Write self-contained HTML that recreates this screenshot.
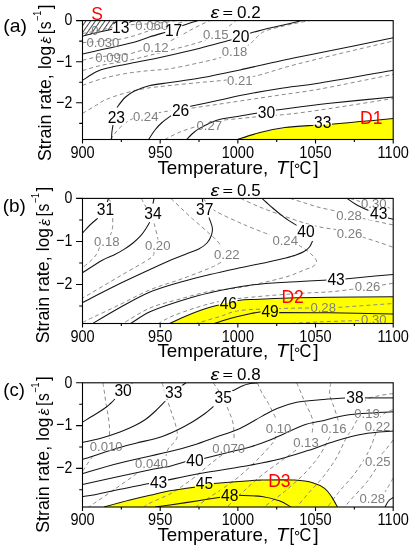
<!DOCTYPE html><html><head><meta charset="utf-8"><title>Processing maps</title><style>
html,body{margin:0;padding:0;background:#fff;}svg{display:block;}
text{font-family:"Liberation Sans",Arial,sans-serif;}
.s{fill:none;stroke:#141414;stroke-width:1.05;}
.d{fill:none;stroke:#8a8a8a;stroke-width:1;stroke-dasharray:4 3;}
.bl{font-size:15px;fill:#000;}
.gr{font-size:13px;fill:#7f7f7f;}
.rd{font-size:15px;fill:#ff0000;}
.tk{font-size:16.8px;fill:#000;}
.ax{fill:none;stroke:#000;stroke-width:1.1;}
</style></head><body>
<svg width="413" height="550" viewBox="0 0 413 550">
<defs>
<pattern id="hatch" patternUnits="userSpaceOnUse" width="3.9" height="3.9" patternTransform="rotate(35)"><line x1="0.5" y1="0" x2="0.5" y2="3.9" stroke="#2a2a2a" stroke-width="0.85"/></pattern>
<clipPath id="clipa"><rect x="82.5" y="20.6" width="310.7" height="118.9"/></clipPath>
<clipPath id="clipb"><rect x="82.5" y="198.4" width="310.7" height="125.1"/></clipPath>
<clipPath id="clipc"><rect x="82.5" y="382.8" width="310.7" height="124.2"/></clipPath>
</defs>
<rect width="413" height="550" fill="#fff"/>
<g clip-path="url(#clipa)">
<path d="M237.5 139.6 C245 136 252 134 260 132.5 C275 129 290 127 314.6 125.2 L331 124.2 C355 122 375 120.2 393.3 118.6 L393.3 139.6 Z" fill="#ffff00" stroke="none"/>
<path d="M82.5 20.6 L114.6 20.6 L112.2 29.2 L97 32.4 L82.5 36.2 Z" fill="url(#hatch)"/>
<mask id="mda" maskUnits="userSpaceOnUse" x="0" y="0" width="413" height="550"><rect x="0" y="0" width="413" height="550" fill="#fff"/><rect x="142.0" y="41.2" width="27.3" height="11.9" fill="#000"/><rect x="202.1" y="27.8" width="27.4" height="12.0" fill="#000"/><rect x="220.8" y="45.3" width="27.3" height="12.5" fill="#000"/><rect x="226.8" y="74.3" width="25.9" height="11.5" fill="#000"/><rect x="132.8" y="110.6" width="25.9" height="11.6" fill="#000"/><rect x="196.3" y="119.4" width="25.7" height="12.0" fill="#000"/><rect x="112.5" y="21.5" width="16.8" height="13.0" fill="#000"/><rect x="165.4" y="24.0" width="16.8" height="13.2" fill="#000"/><rect x="231.5" y="29.8" width="18.7" height="13.1" fill="#000"/><rect x="106.8" y="110.8" width="19.1" height="13.4" fill="#000"/><rect x="171.0" y="103.5" width="19.2" height="14.0" fill="#000"/><rect x="257.0" y="106.1" width="18.9" height="13.5" fill="#000"/><rect x="313.4" y="116.2" width="18.6" height="13.4" fill="#000"/></mask>
<mask id="msa" maskUnits="userSpaceOnUse" x="0" y="0" width="413" height="550"><rect x="0" y="0" width="413" height="550" fill="#fff"/><rect x="112.5" y="21.5" width="16.8" height="13.0" fill="#000"/><rect x="165.4" y="24.0" width="16.8" height="13.2" fill="#000"/><rect x="231.5" y="29.8" width="18.7" height="13.1" fill="#000"/><rect x="106.8" y="110.8" width="19.1" height="13.4" fill="#000"/><rect x="171.0" y="103.5" width="19.2" height="14.0" fill="#000"/><rect x="257.0" y="106.1" width="18.9" height="13.5" fill="#000"/><rect x="313.4" y="116.2" width="18.6" height="13.4" fill="#000"/></mask>
<g mask="url(#mda)">
<path class="d" d="M82.5 33.6 C84.9 33.1 92.1 31.8 97.0 30.8 C101.9 29.8 107.3 28.5 112.0 27.6 C116.7 26.7 121.0 25.9 125.0 25.4 C129.0 24.9 131.8 24.7 136.0 24.4 C140.2 24.1 145.2 24.1 150.0 23.8 C154.8 23.5 160.7 22.9 165.0 22.4 C169.3 21.9 174.2 20.9 176.0 20.6"/>
<path class="d" d="M82.5 42.7 C85.4 42.4 93.9 41.7 100.0 41.1 C106.1 40.5 113.2 40.3 119.0 39.4 C124.8 38.5 129.8 37.0 135.0 35.5 C140.2 34.0 145.0 31.9 150.0 30.5 C155.0 29.1 160.3 28.2 165.0 27.0 C169.7 25.8 174.5 24.6 178.0 23.5 C181.5 22.4 184.7 21.1 186.0 20.6"/>
<path class="d" d="M82.5 60.3 C84.5 59.8 89.6 58.4 94.2 57.6 C98.8 56.8 104.4 56.3 110.0 55.7 C115.6 55.1 122.5 55.2 128.0 54.2 C133.5 53.2 138.5 51.2 143.2 49.8 C147.9 48.4 151.8 47.4 156.0 46.0 C160.2 44.6 164.2 43.5 168.5 41.7 C172.8 39.9 177.8 37.1 181.7 35.0 C185.6 32.9 188.6 31.1 192.0 29.3 C195.4 27.5 199.0 25.6 202.0 24.2 C205.0 22.8 208.7 21.2 210.0 20.6"/>
<path class="d" d="M82.5 70.6 C85.7 69.7 94.7 66.8 101.8 65.2 C108.9 63.7 117.8 62.8 125.0 61.3 C132.2 59.8 139.2 57.9 145.0 56.5 C150.8 55.1 153.3 54.4 160.0 52.7 C166.7 51.0 178.3 48.1 185.0 46.3 C191.7 44.5 195.5 43.5 200.0 42.0 C204.5 40.5 208.3 38.8 212.0 37.0 C215.7 35.2 219.0 32.9 222.0 31.0 C225.0 29.1 227.7 27.2 230.0 25.5 C232.3 23.8 235.0 21.4 236.0 20.6"/>
<path class="d" d="M82.5 85.3 C85.7 84.2 95.0 80.7 101.8 78.8 C108.6 76.9 116.4 75.2 123.6 73.9 C130.8 72.6 137.3 71.9 145.0 71.0 C152.7 70.1 160.8 70.1 170.0 68.7 C179.2 67.3 191.3 64.5 200.0 62.6 C208.7 60.6 214.2 59.8 222.0 57.0 C229.8 54.2 241.3 49.2 247.0 46.0 C252.7 42.8 252.9 40.5 256.0 38.0 C259.1 35.5 259.7 33.2 265.4 31.0 C271.1 28.8 282.6 26.2 290.0 24.5 C297.4 22.8 306.7 21.2 310.0 20.6"/>
<path class="d" d="M82.5 113.4 C84.6 112.2 91.2 108.2 95.0 106.0 C98.8 103.8 100.2 102.1 105.0 100.0 C109.8 97.9 116.9 95.4 123.6 93.5 C130.3 91.6 137.3 89.8 145.0 88.5 C152.7 87.2 160.8 86.5 170.0 85.5 C179.2 84.5 190.6 83.4 200.0 82.5 C209.4 81.6 217.6 81.0 226.5 80.0 C235.4 79.0 242.9 78.8 253.5 76.5 C264.1 74.2 277.2 69.4 290.0 66.0 C302.8 62.6 312.8 60.2 330.0 56.0 C347.2 51.8 382.7 43.5 393.2 41.0"/>
<path class="d" d="M110.5 139.5 C111.4 138.2 113.8 134.6 116.0 132.0 C118.2 129.4 121.0 126.3 124.0 124.0 C127.0 121.7 130.2 119.6 134.0 118.0 C137.8 116.4 142.7 115.4 147.0 114.5 C151.3 113.6 155.8 113.2 160.0 112.5 C164.2 111.8 167.2 111.2 172.0 110.5 C176.8 109.8 181.0 109.6 189.0 108.5 C197.0 107.4 209.8 105.5 220.0 104.0 C230.2 102.5 240.0 101.0 250.0 99.5 C260.0 98.0 268.3 96.8 280.0 95.0 C291.7 93.2 301.1 92.4 320.0 89.0 C338.9 85.6 381.0 76.8 393.2 74.4"/>
<path class="d" d="M164.8 139.5 C167.3 138.2 174.8 134.2 180.0 132.0 C185.2 129.8 191.6 128.0 196.3 126.5 C201.0 125.0 204.0 124.0 208.0 123.0 C212.0 122.0 215.2 121.2 220.5 120.4 C225.8 119.7 233.4 119.2 240.0 118.5 C246.6 117.8 251.7 117.2 260.0 116.5 C268.3 115.8 278.3 115.3 290.0 114.0 C301.7 112.7 312.8 111.1 330.0 108.5 C347.2 105.9 382.7 100.2 393.2 98.5"/>
</g><g mask="url(#msa)">
<path class="s" d="M82.5 36.2 C84.9 35.6 92.0 33.6 97.0 32.4 C102.0 31.2 109.7 29.7 112.2 29.2"/>
<path class="s" d="M128.0 22.8 C128.7 22.6 130.7 21.7 132.0 21.3 C133.3 20.9 135.3 20.7 136.0 20.6"/>
<path class="s" d="M82.5 54.1 C85.4 53.4 94.8 51.2 100.0 50.0 C105.2 48.8 108.2 48.3 114.0 47.0 C119.8 45.7 129.0 43.7 135.0 42.0 C141.0 40.3 144.9 38.4 150.0 36.8 C155.1 35.2 163.0 33.0 165.6 32.2"/>
<path class="s" d="M181.2 25.9 C182.7 25.4 187.2 23.9 190.0 23.0 C192.8 22.1 196.8 21.0 198.1 20.6"/>
<path class="s" d="M82.5 80.4 C84.8 79.0 91.7 73.9 96.3 71.7 C100.9 69.5 105.2 68.7 110.0 67.5 C114.8 66.3 119.2 65.6 125.0 64.4 C130.8 63.2 139.2 61.6 145.0 60.5 C150.8 59.4 154.2 58.8 160.0 57.5 C165.8 56.2 173.3 54.5 180.0 53.0 C186.7 51.5 191.3 50.5 200.0 48.3 C208.7 46.1 226.9 41.0 232.3 39.6"/>
<path class="s" d="M250.0 33.2 C253.3 32.3 263.3 29.6 270.0 28.0 C276.7 26.4 284.7 24.6 290.0 23.4 C295.3 22.2 300.0 21.1 302.0 20.6"/>
<path class="s" d="M111.6 139.5 C111.6 138.4 111.6 135.4 111.8 133.0 C112.0 130.6 112.8 126.3 113.0 125.0"/>
<path class="s" d="M117.0 107.5 C118.3 105.8 122.1 100.2 125.0 97.5 C127.9 94.8 130.3 93.0 134.5 91.0 C138.7 89.0 144.1 86.9 150.0 85.5 C155.9 84.1 161.7 83.8 170.0 82.6 C178.3 81.3 188.3 80.1 200.0 78.0 C211.7 75.9 226.7 72.7 240.0 69.9 C253.3 67.1 266.7 63.9 280.0 61.0 C293.3 58.1 301.1 56.7 320.0 52.8 C338.9 48.9 381.0 40.3 393.2 37.8"/>
<path class="s" d="M148.6 139.5 C149.7 137.9 152.8 132.8 155.0 130.0 C157.2 127.2 159.3 124.9 162.0 122.5 C164.7 120.1 169.5 116.8 171.0 115.6"/>
<path class="s" d="M189.3 106.5 C194.4 105.4 211.6 101.8 220.0 100.0 C228.4 98.2 230.0 97.4 240.0 95.5 C250.0 93.6 266.7 90.6 280.0 88.5 C293.3 86.4 301.1 86.0 320.0 83.0 C338.9 80.0 381.0 72.4 393.2 70.3"/>
<path class="s" d="M186.6 139.5 C187.5 138.6 190.0 135.8 192.0 134.0 C194.0 132.2 195.7 130.7 198.7 128.9 C201.7 127.1 206.4 124.6 210.0 123.0 C213.6 121.4 215.5 120.4 220.5 119.2 C225.5 118.0 233.8 117.0 240.0 116.0 C246.2 115.0 254.6 113.5 257.5 113.0"/>
<path class="s" d="M275.2 110.3 C277.7 110.0 280.9 109.4 290.0 108.2 C299.1 107.0 312.8 105.2 330.0 103.3 C347.2 101.4 382.7 98.0 393.2 96.9"/>
<path class="s" d="M237.5 139.5 C241.2 138.3 252.1 134.5 260.0 132.5 C267.9 130.5 275.9 128.8 285.0 127.6 C294.1 126.4 309.7 125.6 314.6 125.2"/>
<path class="s" d="M331.0 124.2 C335.8 123.8 349.6 122.5 360.0 121.6 C370.4 120.7 387.7 119.1 393.2 118.6"/>
</g>
<text font-family="Liberation Sans" font-size="13.70" fill="#7f7f7f" transform="translate(91.28 34.71) scale(0.960 1)">0</text>
<text font-family="Liberation Sans" font-size="13.70" fill="#7f7f7f" transform="translate(86.43 47.21) scale(0.960 1)">0.030</text>
<text font-family="Liberation Sans" font-size="13.70" fill="#7f7f7f" transform="translate(135.33 29.61) scale(0.960 1)">0.060</text>
<text font-family="Liberation Sans" font-size="13.70" fill="#7f7f7f" transform="translate(95.33 62.31) scale(0.960 1)">0.090</text>
<text font-family="Liberation Sans" font-size="13.70" fill="#7f7f7f" transform="translate(142.93 51.86) scale(0.960 1)">0.12</text>
<text font-family="Liberation Sans" font-size="13.70" fill="#7f7f7f" transform="translate(203.01 38.51) scale(0.960 1)">0.15</text>
<text font-family="Liberation Sans" font-size="13.70" fill="#7f7f7f" transform="translate(221.68 56.26) scale(0.960 1)">0.18</text>
<text font-family="Liberation Sans" font-size="13.70" fill="#7f7f7f" transform="translate(227.01 84.76) scale(0.960 1)">0.21</text>
<text font-family="Liberation Sans" font-size="13.70" fill="#7f7f7f" transform="translate(132.88 121.11) scale(0.960 1)">0.24</text>
<text font-family="Liberation Sans" font-size="13.70" fill="#7f7f7f" transform="translate(196.43 130.11) scale(0.960 1)">0.27</text>
<text font-family="Liberation Sans" font-size="15.60" fill="#000" transform="translate(111.99 33.36) scale(1.000 1)">13</text>
<text font-family="Liberation Sans" font-size="15.60" fill="#000" transform="translate(164.95 35.96) scale(1.000 1)">17</text>
<text font-family="Liberation Sans" font-size="15.60" fill="#000" transform="translate(232.09 41.71) scale(1.000 1)">20</text>
<text font-family="Liberation Sans" font-size="15.60" fill="#000" transform="translate(107.63 122.86) scale(1.000 1)">23</text>
<text font-family="Liberation Sans" font-size="15.60" fill="#000" transform="translate(171.88 115.86) scale(1.000 1)">26</text>
<text font-family="Liberation Sans" font-size="15.60" fill="#000" transform="translate(257.79 118.21) scale(1.000 1)">30</text>
<text font-family="Liberation Sans" font-size="15.60" fill="#000" transform="translate(314.08 128.26) scale(1.000 1)">33</text>
</g>
<text font-family="Liberation Sans" font-size="17.50" fill="#ff0000" transform="translate(91.31 19.92) scale(1.000 1)">S</text>
<text font-family="Liberation Sans" font-size="17.50" fill="#ff0000" transform="translate(360.07 123.92) scale(1.000 1)">D1</text>
<rect class="ax" x="82.5" y="20.6" width="310.7" height="118.9"/>
<path class="ax" d="M76.1 20.60 H82.5 M79.2 41.15 H82.5 M76.1 61.70 H82.5 M79.2 82.25 H82.5 M76.1 102.80 H82.5 M79.2 123.35 H82.5 M82.50 139.5 V143.5 M121.34 139.5 V141.9 M160.18 139.5 V143.5 M199.01 139.5 V141.9 M237.85 139.5 V143.5 M276.69 139.5 V141.9 M315.52 139.5 V143.5 M354.36 139.5 V141.9 M393.20 139.5 V143.5"/>
<text class="tk" transform="translate(72.3 25.4) scale(0.84 1)" text-anchor="end">0</text>
<text class="tk" transform="translate(72.3 66.5) scale(0.84 1)" text-anchor="end">−1</text>
<text class="tk" transform="translate(72.3 107.6) scale(0.84 1)" text-anchor="end">−2</text>
<text class="tk" transform="translate(82.50 158.1) scale(0.865 1)" text-anchor="middle">900</text>
<text class="tk" transform="translate(160.18 158.1) scale(0.865 1)" text-anchor="middle">950</text>
<text class="tk" transform="translate(237.85 158.1) scale(0.865 1)" text-anchor="middle">1000</text>
<text class="tk" transform="translate(315.52 158.1) scale(0.865 1)" text-anchor="middle">1050</text>
<text class="tk" transform="translate(393.20 158.1) scale(0.865 1)" text-anchor="middle">1100</text>
<text font-family="Liberation Sans" font-size="18.00" fill="#000" transform="translate(157.38 173.50) scale(1.046 1)">Temperature,</text>
<text font-family="Liberation Sans" font-style="italic" font-size="18.00" fill="#000" transform="translate(275.98 173.50) scale(1.121 1)">T</text>
<text font-family="Liberation Sans" font-size="18.00" fill="#000" transform="translate(289.45 173.50) scale(0.917 1)">[</text>
<text font-family="Liberation Sans" font-size="18.00" fill="#000" transform="translate(299.58 173.50) scale(0.910 1)">C</text>
<text font-family="Liberation Sans" font-size="18.00" fill="#000" transform="translate(313.25 173.50) scale(1.083 1)">]</text>
<circle cx="297.1" cy="165.9" r="1.8" fill="none" stroke="#000" stroke-width="0.95"/>
<text font-family="Liberation Sans" font-size="18.66" fill="#000" transform="translate(3.19 32.23) scale(1.038 1)">(a)</text>
<text font-family="DejaVu Serif" font-style="italic" font-size="16.15" fill="#000" transform="translate(210.55 18.28) scale(1.239 1)">ε</text>
<text font-family="Liberation Sans" font-size="13.64" fill="#000" transform="translate(222.44 16.99) scale(1.323 1)">=</text>
<text font-family="Liberation Sans" font-size="15.83" fill="#000" transform="translate(237.12 17.94) scale(1.079 1)">0.2</text>
<text font-family="Liberation Sans" font-size="18.00" fill="#000" transform="translate(51.10 161.10) rotate(-90) scale(0.988 1)">Strain rate,</text>
<text font-family="Liberation Sans" font-size="18.00" fill="#000" transform="translate(51.10 68.96) rotate(-90) scale(0.956 1)">log</text>
<text font-family="Liberation Serif" font-style="italic" font-size="15.00" fill="#000" transform="translate(51.40 43.82) rotate(-90) scale(1.056 1)">ε</text>
<circle cx="41.6" cy="40.3" r="0.85" fill="#000"/>
<text font-family="Liberation Sans" font-size="18.00" fill="#000" transform="translate(51.10 34.05) rotate(-90) scale(0.833 1)">[</text>
<text font-family="Liberation Sans" font-size="18.00" fill="#000" transform="translate(51.10 29.23) rotate(-90) scale(0.863 1)">s</text>
<text font-family="Liberation Sans" font-size="10.60" fill="#000" transform="translate(40.80 20.95) rotate(-90) scale(0.842 1)">−1</text>
<text font-family="Liberation Sans" font-size="18.00" fill="#000" transform="translate(51.10 9.22) rotate(-90) scale(0.917 1)">]</text>
<g clip-path="url(#clipb)">
<path d="M169.6 323.6 C180 318 195 312 210 307.3 C220 304.5 232 301 250 299.6 C290 298 330 297.3 393.3 296.7 L393.3 323.6 Z" fill="#ffff00" stroke="none"/>
<mask id="mdb" maskUnits="userSpaceOnUse" x="0" y="0" width="413" height="550"><rect x="0" y="0" width="413" height="550" fill="#fff"/><rect x="93.0" y="235.3" width="27.4" height="11.4" fill="#000"/><rect x="144.2" y="239.6" width="27.0" height="12.2" fill="#000"/><rect x="212.8" y="247.0" width="27.7" height="14.2" fill="#000"/><rect x="271.4" y="233.8" width="27.7" height="13.0" fill="#000"/><rect x="336.2" y="227.7" width="26.6" height="12.1" fill="#000"/><rect x="335.3" y="209.3" width="27.5" height="12.1" fill="#000"/><rect x="360.4" y="198.1" width="26.7" height="10.9" fill="#000"/><rect x="353.7" y="280.0" width="27.5" height="13.1" fill="#000"/><rect x="309.6" y="301.5" width="27.1" height="12.3" fill="#000"/><rect x="360.4" y="313.8" width="26.7" height="11.2" fill="#000"/><rect x="96.5" y="202.5" width="17.9" height="14.1" fill="#000"/><rect x="144.0" y="207.4" width="17.9" height="13.0" fill="#000"/><rect x="195.8" y="202.4" width="17.7" height="14.4" fill="#000"/><rect x="296.5" y="224.4" width="18.7" height="14.4" fill="#000"/><rect x="369.2" y="207.4" width="18.8" height="13.0" fill="#000"/><rect x="326.5" y="272.3" width="18.9" height="14.0" fill="#000"/><rect x="218.8" y="297.2" width="18.7" height="13.3" fill="#000"/><rect x="260.6" y="304.8" width="18.6" height="14.4" fill="#000"/></mask>
<mask id="msb" maskUnits="userSpaceOnUse" x="0" y="0" width="413" height="550"><rect x="0" y="0" width="413" height="550" fill="#fff"/><rect x="96.5" y="202.5" width="17.9" height="14.1" fill="#000"/><rect x="144.0" y="207.4" width="17.9" height="13.0" fill="#000"/><rect x="195.8" y="202.4" width="17.7" height="14.4" fill="#000"/><rect x="296.5" y="224.4" width="18.7" height="14.4" fill="#000"/><rect x="369.2" y="207.4" width="18.8" height="13.0" fill="#000"/><rect x="326.5" y="272.3" width="18.9" height="14.0" fill="#000"/><rect x="218.8" y="297.2" width="18.7" height="13.3" fill="#000"/><rect x="260.6" y="304.8" width="18.6" height="14.4" fill="#000"/></mask>
<g mask="url(#mdb)">
<path class="d" d="M108.3 198.4 C109.0 199.5 111.6 202.2 112.3 205.0 C113.0 207.8 112.7 211.2 112.7 215.0 C112.7 218.8 112.9 224.4 112.5 227.7 C112.1 231.0 110.8 233.8 110.5 235.0"/>
<path class="d" d="M99.6 247.4 C99.0 248.7 97.6 252.7 96.0 255.0 C94.4 257.4 92.2 259.4 90.0 261.5 C87.8 263.6 83.8 266.7 82.5 267.7"/>
<path class="d" d="M141.3 198.4 C142.1 199.9 144.8 204.8 146.2 207.6 C147.6 210.4 148.7 212.4 150.0 215.0 C151.3 217.6 152.8 219.8 154.0 223.4 C155.2 227.0 156.7 233.7 157.4 236.5 C158.1 239.3 157.9 239.8 158.0 240.5"/>
<path class="d" d="M154.0 252.0 C153.3 253.1 155.7 254.4 150.0 258.4 C144.3 262.4 131.2 269.4 120.0 276.0 C108.8 282.6 88.8 294.5 82.5 298.2"/>
<path class="d" d="M170.9 198.4 C172.8 200.2 178.4 205.6 182.0 209.0 C185.6 212.4 189.4 216.0 192.7 219.0 C196.0 222.0 199.1 224.4 202.0 227.0 C204.9 229.6 207.6 232.1 210.0 234.3 C212.4 236.5 214.8 238.2 216.6 240.2 C218.4 242.1 220.3 245.0 221.0 246.0"/>
<path class="d" d="M221.0 262.4 C219.2 263.3 216.8 265.1 210.0 268.0 C203.2 270.9 190.0 275.9 180.0 279.5 C170.0 283.1 160.0 285.6 150.0 289.8 C140.0 294.0 130.5 299.4 120.0 304.5 C109.5 309.6 93.0 317.3 86.8 320.3 C80.6 323.3 83.6 322.1 83.0 322.5"/>
<path class="d" d="M203.3 198.4 C203.9 199.2 205.0 200.9 207.0 203.0 C209.0 205.1 209.2 207.4 215.3 211.0 C221.4 214.6 234.2 220.3 243.3 224.3 C252.4 228.3 265.6 233.2 270.0 235.0"/>
<path class="d" d="M298.8 245.2 C300.7 246.5 307.1 250.4 310.0 253.0 C312.9 255.6 316.0 258.8 316.5 261.0 C317.0 263.2 314.9 265.1 313.0 266.5 C311.1 267.9 310.3 267.6 305.4 269.5 C300.5 271.4 294.5 274.6 283.6 277.6 C272.7 280.6 252.3 285.2 240.0 287.5 C227.7 289.8 220.0 289.4 210.0 291.3 C200.0 293.2 190.0 296.2 180.0 299.0 C170.0 301.8 159.3 304.0 150.0 308.0 C140.7 312.0 128.8 320.1 124.0 322.8 C119.2 325.5 121.5 323.8 121.0 324.0"/>
<path class="d" d="M240.6 198.4 C243.0 199.5 250.1 202.9 255.0 205.0 C259.9 207.1 262.5 208.2 270.0 211.0 C277.5 213.8 291.7 218.9 300.0 221.6 C308.3 224.3 314.0 225.7 320.0 227.0 C326.0 228.3 333.3 229.1 336.0 229.5"/>
<path class="d" d="M362.0 237.0 C364.7 237.8 372.8 240.3 378.0 242.0 C383.2 243.7 390.7 246.4 393.2 247.3"/>
<path class="d" d="M158.0 323.8 C160.8 322.3 166.3 318.4 175.0 315.0 C183.7 311.6 199.2 306.4 210.0 303.6 C220.8 300.8 226.7 300.0 240.0 298.4 C253.3 296.8 275.0 295.1 290.0 294.0 C305.0 292.9 319.4 292.6 330.0 291.8 C340.6 291.0 349.9 289.5 353.9 289.0"/>
<path class="d" d="M382.0 285.1 L393.2 283.2"/>
<path class="d" d="M290.0 198.4 C292.5 199.2 300.0 201.5 305.0 203.0 C310.0 204.5 314.8 206.3 320.0 207.6 C325.2 208.9 333.3 210.4 336.0 211.0"/>
<path class="d" d="M361.6 218.2 L393.2 225.0"/>
<path class="d" d="M195.0 323.8 C199.2 322.6 212.5 318.7 220.0 316.5 C227.5 314.3 230.0 311.8 240.0 310.5 C250.0 309.2 268.3 308.9 280.0 308.5 C291.7 308.1 305.0 308.1 310.0 308.0"/>
<path class="d" d="M338.4 307.4 L393.2 303.5"/>
<path class="d" d="M350.0 198.4 L360.0 201.5"/>
<path class="d" d="M386.0 207.0 L393.2 209.0"/>
<path class="d" d="M285.0 323.8 C290.8 323.5 307.3 322.4 320.0 321.9 C332.7 321.3 354.2 320.7 361.0 320.5"/>
</g><g mask="url(#msb)">
<path class="s" d="M82.5 233.0 C83.8 231.7 87.5 227.4 90.0 225.0 C92.5 222.6 96.4 219.4 97.7 218.3"/>
<path class="s" d="M107.4 202.0 L108.4 198.4"/>
<path class="s" d="M82.5 272.8 C85.7 270.8 96.6 263.5 101.8 260.5 C107.0 257.5 110.3 256.8 113.9 255.0 C117.5 253.2 120.4 251.6 123.6 249.6 C126.8 247.6 130.1 245.4 133.0 243.0 C135.9 240.6 138.8 237.8 141.0 235.4 C143.2 233.0 144.6 230.7 146.0 228.5 C147.4 226.3 149.1 223.3 149.7 222.3"/>
<path class="s" d="M153.0 203.7 L154.0 198.4"/>
<path class="s" d="M82.5 302.5 C87.9 299.8 103.8 291.5 115.0 286.0 C126.2 280.5 141.1 273.7 150.0 269.5 C158.9 265.3 162.9 263.5 168.7 261.0 C174.5 258.5 179.9 256.6 185.0 254.5 C190.1 252.4 195.5 250.6 199.2 248.7 C202.9 246.8 204.9 245.3 207.0 243.0 C209.1 240.7 210.6 237.6 211.5 235.0 C212.4 232.4 212.7 230.6 212.3 227.7 C211.9 224.8 209.6 219.3 209.0 217.6"/>
<path class="s" d="M202.8 202.6 L202.3 198.4"/>
<path class="s" d="M92.7 323.5 C97.2 320.8 110.5 312.8 120.0 307.5 C129.6 302.2 140.0 296.2 150.0 292.0 C160.0 287.8 170.0 285.1 180.0 282.2 C190.0 279.3 200.0 276.9 210.0 274.5 C220.0 272.1 230.3 269.9 240.0 267.8 C249.7 265.7 260.7 263.6 268.3 262.0 C275.9 260.4 281.2 259.2 285.8 258.0 C290.4 256.8 293.0 256.1 296.0 255.0 C299.0 253.9 301.8 252.8 304.0 251.5 C306.2 250.2 308.1 248.8 309.5 247.0 C310.9 245.2 312.0 242.0 312.5 241.0"/>
<path class="s" d="M297.5 226.0 C295.2 224.5 287.7 219.8 283.6 216.8 C279.5 213.8 275.6 210.5 272.7 208.0 C269.8 205.5 267.8 203.6 266.0 202.0 C264.2 200.4 262.7 199.0 262.0 198.4"/>
<path class="s" d="M347.0 198.4 C348.5 199.4 352.4 202.5 356.0 204.5 C359.6 206.5 366.3 209.5 368.4 210.5"/>
<path class="s" d="M387.0 217.8 L393.2 219.2"/>
<path class="s" d="M130.8 323.5 C134.0 321.6 141.8 315.6 150.0 311.8 C158.2 308.1 170.0 304.2 180.0 301.0 C190.0 297.8 198.3 295.3 210.0 292.7 C221.7 290.1 236.7 287.1 250.0 285.3 C263.3 283.5 277.2 282.9 290.0 282.0 C302.8 281.1 320.8 280.3 327.0 280.0"/>
<path class="s" d="M345.0 278.9 C349.2 278.5 362.0 277.2 370.0 276.5 C378.0 275.8 389.3 274.8 393.2 274.5"/>
<path class="s" d="M169.6 323.5 C172.2 322.3 179.9 318.7 185.0 316.5 C190.1 314.3 195.8 312.0 200.0 310.5 C204.2 309.0 206.8 308.2 210.0 307.3 C213.2 306.4 217.5 305.4 219.0 305.0"/>
<path class="s" d="M237.0 300.6 C239.2 300.4 241.2 300.0 250.0 299.6 C258.8 299.2 276.7 298.4 290.0 298.0 C303.3 297.6 312.8 297.5 330.0 297.3 C347.2 297.1 382.7 296.8 393.2 296.7"/>
<path class="s" d="M214.5 323.5 C217.1 322.7 224.1 320.1 230.0 318.5 C235.9 316.9 244.8 314.8 250.0 313.7 C255.2 312.6 259.6 312.1 261.5 311.8"/>
<path class="s" d="M279.0 312.6 C287.5 312.6 311.0 312.6 330.0 312.8 C349.0 313.1 382.7 313.9 393.2 314.1"/>
</g>
<text font-family="Liberation Sans" font-size="13.70" fill="#7f7f7f" transform="translate(93.93 245.71) scale(0.960 1)">0.18</text>
<text font-family="Liberation Sans" font-size="13.70" fill="#7f7f7f" transform="translate(144.89 250.41) scale(0.960 1)">0.20</text>
<text font-family="Liberation Sans" font-size="13.70" fill="#7f7f7f" transform="translate(213.93 258.81) scale(0.960 1)">0.22</text>
<text font-family="Liberation Sans" font-size="13.70" fill="#7f7f7f" transform="translate(272.38 245.01) scale(0.960 1)">0.24</text>
<text font-family="Liberation Sans" font-size="13.70" fill="#7f7f7f" transform="translate(336.73 238.46) scale(0.960 1)">0.26</text>
<text font-family="Liberation Sans" font-size="13.70" fill="#7f7f7f" transform="translate(336.28 220.06) scale(0.960 1)">0.28</text>
<text font-family="Liberation Sans" font-size="13.70" fill="#7f7f7f" transform="translate(360.94 208.26) scale(0.960 1)">0.30</text>
<text font-family="Liberation Sans" font-size="13.70" fill="#7f7f7f" transform="translate(354.68 291.26) scale(0.960 1)">0.26</text>
<text font-family="Liberation Sans" font-size="13.70" fill="#7f7f7f" transform="translate(310.38 312.36) scale(0.960 1)">0.28</text>
<text font-family="Liberation Sans" font-size="13.70" fill="#7f7f7f" transform="translate(360.94 324.11) scale(0.960 1)">0.30</text>
<text font-family="Liberation Sans" font-size="15.60" fill="#000" transform="translate(96.87 214.91) scale(1.000 1)">31</text>
<text font-family="Liberation Sans" font-size="15.60" fill="#000" transform="translate(144.21 219.26) scale(1.000 1)">34</text>
<text font-family="Liberation Sans" font-size="15.60" fill="#000" transform="translate(196.09 214.96) scale(1.000 1)">37</text>
<text font-family="Liberation Sans" font-size="15.60" fill="#000" transform="translate(297.31 236.96) scale(1.000 1)">40</text>
<text font-family="Liberation Sans" font-size="15.60" fill="#000" transform="translate(370.10 219.26) scale(1.000 1)">43</text>
<text font-family="Liberation Sans" font-size="15.60" fill="#000" transform="translate(327.45 284.66) scale(1.000 1)">43</text>
<text font-family="Liberation Sans" font-size="15.60" fill="#000" transform="translate(219.65 309.21) scale(1.000 1)">46</text>
<text font-family="Liberation Sans" font-size="15.60" fill="#000" transform="translate(261.42 317.36) scale(1.000 1)">49</text>
</g>
<text font-family="Liberation Sans" font-size="17.50" fill="#ff0000" transform="translate(281.39 302.80) scale(1.000 1)">D2</text>
<rect class="ax" x="82.5" y="198.4" width="310.7" height="125.1"/>
<path class="ax" d="M76.1 198.40 H82.5 M79.2 219.93 H82.5 M76.1 241.45 H82.5 M79.2 262.97 H82.5 M76.1 284.50 H82.5 M79.2 306.02 H82.5 M82.50 323.5 V327.5 M121.34 323.5 V325.9 M160.18 323.5 V327.5 M199.01 323.5 V325.9 M237.85 323.5 V327.5 M276.69 323.5 V325.9 M315.52 323.5 V327.5 M354.36 323.5 V325.9 M393.20 323.5 V327.5"/>
<text class="tk" transform="translate(72.3 203.2) scale(0.84 1)" text-anchor="end">0</text>
<text class="tk" transform="translate(72.3 246.2) scale(0.84 1)" text-anchor="end">−1</text>
<text class="tk" transform="translate(72.3 289.3) scale(0.84 1)" text-anchor="end">−2</text>
<text class="tk" transform="translate(82.50 342.1) scale(0.865 1)" text-anchor="middle">900</text>
<text class="tk" transform="translate(160.18 342.1) scale(0.865 1)" text-anchor="middle">950</text>
<text class="tk" transform="translate(237.85 342.1) scale(0.865 1)" text-anchor="middle">1000</text>
<text class="tk" transform="translate(315.52 342.1) scale(0.865 1)" text-anchor="middle">1050</text>
<text class="tk" transform="translate(393.20 342.1) scale(0.865 1)" text-anchor="middle">1100</text>
<text font-family="Liberation Sans" font-size="18.00" fill="#000" transform="translate(157.38 357.40) scale(1.046 1)">Temperature,</text>
<text font-family="Liberation Sans" font-style="italic" font-size="18.00" fill="#000" transform="translate(275.98 357.40) scale(1.121 1)">T</text>
<text font-family="Liberation Sans" font-size="18.00" fill="#000" transform="translate(289.45 357.40) scale(0.917 1)">[</text>
<text font-family="Liberation Sans" font-size="18.00" fill="#000" transform="translate(299.58 357.40) scale(0.910 1)">C</text>
<text font-family="Liberation Sans" font-size="18.00" fill="#000" transform="translate(313.25 357.40) scale(1.083 1)">]</text>
<circle cx="297.1" cy="349.8" r="1.8" fill="none" stroke="#000" stroke-width="0.95"/>
<text font-family="Liberation Sans" font-size="18.77" fill="#000" transform="translate(2.72 211.81) scale(1.008 1)">(b)</text>
<text font-family="DejaVu Serif" font-style="italic" font-size="16.15" fill="#000" transform="translate(210.55 196.08) scale(1.239 1)">ε</text>
<text font-family="Liberation Sans" font-size="13.64" fill="#000" transform="translate(222.44 194.79) scale(1.323 1)">=</text>
<text font-family="Liberation Sans" font-size="15.83" fill="#000" transform="translate(237.12 195.74) scale(1.071 1)">0.5</text>
<text font-family="Liberation Sans" font-size="18.00" fill="#000" transform="translate(49.40 343.30) rotate(-90) scale(0.988 1)">Strain rate,</text>
<text font-family="Liberation Sans" font-size="18.00" fill="#000" transform="translate(49.40 251.16) rotate(-90) scale(0.956 1)">log</text>
<text font-family="Liberation Serif" font-style="italic" font-size="15.00" fill="#000" transform="translate(49.70 226.02) rotate(-90) scale(1.056 1)">ε</text>
<circle cx="39.9" cy="222.5" r="0.85" fill="#000"/>
<text font-family="Liberation Sans" font-size="18.00" fill="#000" transform="translate(49.40 216.25) rotate(-90) scale(0.833 1)">[</text>
<text font-family="Liberation Sans" font-size="18.00" fill="#000" transform="translate(49.40 211.43) rotate(-90) scale(0.863 1)">s</text>
<text font-family="Liberation Sans" font-size="10.60" fill="#000" transform="translate(39.10 203.15) rotate(-90) scale(0.842 1)">−1</text>
<text font-family="Liberation Sans" font-size="18.00" fill="#000" transform="translate(49.40 191.42) rotate(-90) scale(0.917 1)">]</text>
<g clip-path="url(#clipc)">
<path d="M104 507.1 C120 502 140 497 170 490.8 C185 488 200 485 213.6 483.6 C235 481.5 250 480.5 261.8 480.1 C275 479.8 285 479.9 294.5 480.1 C303 480.8 309 481.5 313.4 482.9 C319 484.5 322 486 324.6 488.3 C328 491.5 330 494 331.5 496.6 C334 500 336 504 337.5 507.1 Z" fill="#ffff00" stroke="none"/>
<mask id="mdc" maskUnits="userSpaceOnUse" x="0" y="0" width="413" height="550"><rect x="0" y="0" width="413" height="550" fill="#fff"/><rect x="88.6" y="439.7" width="35.1" height="12.2" fill="#000"/><rect x="134.4" y="457.1" width="34.0" height="12.2" fill="#000"/><rect x="211.4" y="442.7" width="34.4" height="11.3" fill="#000"/><rect x="264.9" y="421.8" width="27.5" height="12.2" fill="#000"/><rect x="292.2" y="435.5" width="27.4" height="12.7" fill="#000"/><rect x="320.0" y="422.1" width="27.5" height="12.9" fill="#000"/><rect x="353.7" y="406.8" width="26.5" height="12.1" fill="#000"/><rect x="363.8" y="420.2" width="27.4" height="12.5" fill="#000"/><rect x="363.8" y="455.0" width="28.0" height="13.0" fill="#000"/><rect x="359.0" y="492.2" width="26.6" height="12.6" fill="#000"/><rect x="113.7" y="383.4" width="18.7" height="14.4" fill="#000"/><rect x="164.2" y="385.6" width="18.8" height="13.3" fill="#000"/><rect x="213.3" y="391.0" width="19.8" height="13.2" fill="#000"/><rect x="345.0" y="390.3" width="19.8" height="15.0" fill="#000"/><rect x="185.3" y="454.3" width="18.9" height="13.4" fill="#000"/><rect x="149.0" y="476.5" width="18.9" height="13.1" fill="#000"/><rect x="194.9" y="477.6" width="18.9" height="13.0" fill="#000"/><rect x="220.1" y="489.2" width="18.9" height="13.1" fill="#000"/></mask>
<mask id="msc" maskUnits="userSpaceOnUse" x="0" y="0" width="413" height="550"><rect x="0" y="0" width="413" height="550" fill="#fff"/><rect x="113.7" y="383.4" width="18.7" height="14.4" fill="#000"/><rect x="164.2" y="385.6" width="18.8" height="13.3" fill="#000"/><rect x="213.3" y="391.0" width="19.8" height="13.2" fill="#000"/><rect x="345.0" y="390.3" width="19.8" height="15.0" fill="#000"/><rect x="185.3" y="454.3" width="18.9" height="13.4" fill="#000"/><rect x="149.0" y="476.5" width="18.9" height="13.1" fill="#000"/><rect x="194.9" y="477.6" width="18.9" height="13.0" fill="#000"/><rect x="220.1" y="489.2" width="18.9" height="13.1" fill="#000"/></mask>
<g mask="url(#mdc)">
<path class="d" d="M102.9 382.8 C103.2 384.5 104.0 389.4 104.5 393.0 C105.0 396.6 105.5 400.5 106.1 404.2 C106.7 407.9 107.5 411.4 108.0 415.0 C108.5 418.6 109.2 422.0 109.4 426.0 C109.6 430.0 109.4 436.8 109.4 439.0"/>
<path class="d" d="M93.0 456.0 C92.2 457.2 89.8 460.4 88.0 463.0 C86.2 465.6 83.4 470.0 82.5 471.4"/>
<path class="d" d="M162.2 382.8 C162.7 384.5 163.9 389.4 165.0 393.0 C166.1 396.6 167.5 400.7 168.7 404.2 C169.9 407.7 170.9 410.7 172.0 414.0 C173.1 417.3 174.4 420.4 175.3 423.9 C176.2 427.4 177.5 431.9 177.4 434.8 C177.3 437.7 176.4 439.3 175.0 441.5 C173.6 443.7 170.2 445.6 168.7 448.0 C167.2 450.4 166.4 454.7 166.0 456.0"/>
<path class="d" d="M136.7 473.6 C133.1 476.2 122.3 483.9 115.0 489.0 C107.7 494.1 97.5 501.0 93.0 504.1 C88.5 507.2 88.8 506.9 88.0 507.5"/>
<path class="d" d="M213.4 382.8 C214.7 384.7 219.0 390.9 221.0 394.4 C223.0 397.8 224.1 400.4 225.5 403.5 C226.9 406.6 228.4 409.8 229.7 413.0 C230.9 416.2 232.3 419.8 233.0 423.0 C233.7 426.2 233.8 429.0 234.0 432.0 C234.2 435.0 234.0 439.5 234.0 441.0"/>
<path class="d" d="M222.0 455.0 C219.8 456.7 213.2 461.6 208.7 465.2 C204.2 468.8 199.7 473.2 195.2 476.8 C190.7 480.4 185.8 483.6 181.6 486.5 C177.4 489.4 175.3 491.2 170.0 494.0 C164.7 496.8 154.5 500.8 150.0 503.0 C145.5 505.2 144.2 506.8 143.0 507.5"/>
<path class="d" d="M257.4 382.8 C258.2 384.5 260.2 389.6 262.0 393.0 C263.8 396.4 266.0 399.0 268.3 403.3 C270.6 407.6 274.7 416.1 276.0 418.6"/>
<path class="d" d="M276.0 436.0 C275.4 437.2 275.7 439.2 272.7 443.0 C269.7 446.8 263.4 453.5 258.0 459.0 C252.6 464.5 245.5 471.1 240.0 475.8 C234.5 480.5 230.0 483.5 225.0 487.0 C220.0 490.5 215.0 493.6 210.0 497.0 C205.0 500.4 197.5 505.8 195.0 507.5"/>
<path class="d" d="M296.7 382.8 C297.4 384.5 299.6 389.6 301.0 393.0 C302.4 396.4 303.7 399.6 305.4 403.3 C307.1 407.0 309.7 411.7 311.0 415.0 C312.3 418.3 312.8 419.8 313.0 423.0 C313.2 426.2 312.2 432.2 312.0 434.0"/>
<path class="d" d="M296.0 450.0 C294.7 451.0 290.7 454.0 288.0 456.0 C285.3 458.0 284.3 458.6 280.0 461.8 C275.7 465.0 267.8 470.3 262.0 475.0 C256.2 479.7 250.0 485.5 245.0 490.0 C240.0 494.5 235.0 499.1 232.0 502.0 C229.0 504.9 227.8 506.6 227.0 507.5"/>
<path class="d" d="M330.7 382.8 C330.5 384.7 329.2 390.5 329.7 394.4 C330.2 398.3 332.3 402.1 333.6 406.0 C334.9 409.9 336.7 415.2 337.4 417.7 C338.1 420.2 337.9 420.4 338.0 421.0"/>
<path class="d" d="M330.0 436.7 C328.2 439.9 323.2 450.1 319.0 456.2 C314.8 462.2 310.1 467.6 305.0 473.0 C299.9 478.4 292.6 484.6 288.4 488.3 C284.2 492.0 283.4 492.6 280.0 495.2 C276.6 497.8 270.7 501.9 268.0 504.0 C265.3 506.1 264.7 506.9 264.0 507.5"/>
<path class="d" d="M393.2 393.5 C391.0 393.8 384.4 394.6 380.0 395.5 C375.6 396.4 369.3 397.6 366.5 399.2 C363.7 400.8 363.6 404.0 363.0 405.0"/>
<path class="d" d="M357.0 420.0 C356.0 421.8 352.7 428.2 351.0 431.0 C349.3 433.8 349.4 432.0 346.8 436.7 C344.2 441.4 339.9 452.0 335.7 459.0 C331.5 466.0 326.4 472.7 321.8 478.5 C317.2 484.3 312.0 489.0 307.8 493.8 C303.6 498.6 298.6 505.2 296.7 507.5"/>
<path class="d" d="M393.2 409.5 C391.8 410.1 387.5 411.4 385.0 413.0 C382.5 414.6 379.2 418.0 378.0 419.0"/>
<path class="d" d="M376.0 432.5 C374.8 435.5 372.5 443.9 369.0 450.6 C365.5 457.4 360.3 466.0 355.2 473.0 C350.1 480.0 343.1 486.6 338.5 492.4 C333.9 498.1 329.2 505.0 327.3 507.5"/>
<path class="d" d="M393.2 440.0 C392.2 441.3 389.0 445.5 387.0 448.0 C385.0 450.5 382.0 453.8 381.0 455.0"/>
<path class="d" d="M376.0 468.8 C374.4 471.1 370.2 477.8 366.3 482.7 C362.4 487.6 356.1 493.9 352.4 498.0 C348.7 502.1 345.4 505.9 344.0 507.5"/>
<path class="d" d="M393.2 478.0 C392.3 479.5 389.4 484.7 388.0 487.0 C386.6 489.3 385.5 491.2 385.0 492.0"/>
</g><g mask="url(#msc)">
<path class="s" d="M82.5 422.1 C84.6 420.8 91.2 416.9 95.0 414.5 C98.8 412.1 102.4 409.8 105.0 408.0 C107.6 406.2 108.8 405.0 110.5 403.5 C112.2 402.0 114.2 399.8 114.9 399.0"/>
<path class="s" d="M131.5 384.5 L132.2 382.8"/>
<path class="s" d="M82.5 442.4 C85.4 441.8 93.8 440.2 100.0 438.5 C106.2 436.8 114.2 434.2 120.0 432.0 C125.8 429.8 130.8 427.6 135.0 425.5 C139.2 423.4 141.9 422.0 145.4 419.5 C148.9 417.0 152.7 413.6 156.0 410.5 C159.3 407.4 163.8 402.6 165.4 401.0"/>
<path class="s" d="M181.8 385.7 L186.0 382.8"/>
<path class="s" d="M82.5 459.4 C88.8 457.4 111.0 450.2 120.0 447.5 C129.0 444.8 130.0 444.7 136.7 443.0 C143.4 441.3 153.2 439.5 160.0 437.3 C166.8 435.1 172.0 432.6 177.4 430.0 C182.8 427.4 188.1 424.4 192.7 421.7 C197.3 418.9 201.6 416.1 205.0 413.5 C208.4 410.9 212.0 407.6 213.4 406.4"/>
<path class="s" d="M231.9 391.2 C233.7 390.3 239.8 387.0 242.8 385.7 C245.8 384.4 247.6 384.1 250.0 383.6 C252.4 383.1 256.2 382.9 257.4 382.8"/>
<path class="s" d="M82.5 473.6 C88.8 471.8 105.4 466.7 120.0 463.0 C134.6 459.3 157.7 454.6 170.0 451.6 C182.3 448.6 186.3 447.4 193.8 445.0 C201.3 442.6 207.3 440.3 215.0 437.5 C222.7 434.7 232.2 431.9 240.0 428.4 C247.8 424.9 255.6 419.7 261.8 416.4 C268.0 413.1 271.2 410.9 277.0 408.5 C282.8 406.1 289.5 403.8 296.7 402.3 C303.9 400.9 311.9 400.5 320.0 399.8 C328.1 399.1 340.8 398.3 345.0 398.0"/>
<path class="s" d="M364.6 397.9 L393.2 397.9"/>
<path class="s" d="M82.5 484.5 C88.8 483.1 108.9 478.6 120.0 476.2 C131.1 473.8 140.9 471.7 149.2 470.0 C157.5 468.3 163.9 467.6 170.0 466.2 C176.1 464.8 183.3 462.4 186.0 461.6"/>
<path class="s" d="M203.9 458.4 C208.2 457.3 222.3 453.9 230.0 452.0 C237.7 450.1 243.3 449.0 250.0 447.0 C256.7 445.0 264.4 442.2 270.0 440.0 C275.6 437.8 277.7 436.5 283.6 433.9 C289.5 431.3 299.3 426.6 305.4 424.5 C311.5 422.4 312.7 422.9 320.0 421.3 C327.3 419.7 336.8 416.4 349.0 414.8 C361.2 413.2 385.8 412.3 393.2 411.8"/>
<path class="s" d="M82.5 496.5 C84.6 496.2 88.8 495.9 95.0 494.7 C101.2 493.5 111.0 491.2 120.0 489.3 C129.0 487.4 144.3 484.5 149.2 483.5"/>
<path class="s" d="M167.6 480.1 C173.0 479.0 186.3 476.0 200.0 473.5 C213.7 471.0 236.7 467.6 250.0 465.2 C263.3 462.8 270.4 461.4 280.0 459.0 C289.6 456.6 298.5 453.6 307.8 450.6 C317.1 447.6 326.4 443.7 335.7 440.9 C345.0 438.1 353.9 435.5 363.5 433.9 C373.1 432.3 388.2 431.6 393.2 431.1"/>
<path class="s" d="M104.0 507.0 C108.3 505.8 122.3 501.9 130.0 500.0 C137.7 498.1 143.3 496.8 150.0 495.3 C156.7 493.8 162.3 492.2 170.0 490.8 C177.7 489.4 191.7 487.6 196.0 487.0"/>
<path class="s" d="M213.6 483.6 C219.7 483.1 242.0 481.3 250.0 480.7 C258.0 480.1 254.4 480.2 261.8 480.1 C269.2 480.0 285.9 479.6 294.5 480.1 C303.1 480.6 308.4 481.5 313.4 482.9 C318.4 484.3 321.6 486.0 324.6 488.3 C327.6 490.6 329.4 493.5 331.5 496.6 C333.6 499.7 336.5 505.3 337.5 507.0"/>
<path class="s" d="M155.0 507.0 C157.5 506.7 162.5 506.1 170.0 505.0 C177.5 503.9 191.6 501.8 200.0 500.5 C208.4 499.2 217.0 497.8 220.4 497.2"/>
<path class="s" d="M238.8 495.3 C242.6 495.5 255.1 495.6 261.8 496.5 C268.5 497.4 274.3 499.1 279.2 500.8 C284.1 502.6 289.1 506.0 291.1 507.0"/>
<path class="s" d="M385.0 507.0 C385.6 506.0 387.1 502.6 388.5 501.0 C389.9 499.4 392.4 498.1 393.2 497.5"/>
</g>
<text font-family="Liberation Sans" font-size="13.70" fill="#7f7f7f" transform="translate(89.68 450.51) scale(0.960 1)">0.010</text>
<text font-family="Liberation Sans" font-size="13.70" fill="#7f7f7f" transform="translate(134.93 467.91) scale(0.960 1)">0.040</text>
<text font-family="Liberation Sans" font-size="13.70" fill="#7f7f7f" transform="translate(212.13 453.06) scale(0.960 1)">0.070</text>
<text font-family="Liberation Sans" font-size="13.70" fill="#7f7f7f" transform="translate(265.84 432.61) scale(0.960 1)">0.10</text>
<text font-family="Liberation Sans" font-size="13.70" fill="#7f7f7f" transform="translate(293.13 446.56) scale(0.960 1)">0.13</text>
<text font-family="Liberation Sans" font-size="13.70" fill="#7f7f7f" transform="translate(320.98 433.26) scale(0.960 1)">0.16</text>
<text font-family="Liberation Sans" font-size="13.70" fill="#7f7f7f" transform="translate(354.19 417.56) scale(0.960 1)">0.19</text>
<text font-family="Liberation Sans" font-size="13.70" fill="#7f7f7f" transform="translate(364.78 431.16) scale(0.960 1)">0.22</text>
<text font-family="Liberation Sans" font-size="13.70" fill="#7f7f7f" transform="translate(365.01 466.21) scale(0.960 1)">0.25</text>
<text font-family="Liberation Sans" font-size="13.70" fill="#7f7f7f" transform="translate(359.53 503.21) scale(0.960 1)">0.28</text>
<text font-family="Liberation Sans" font-size="15.60" fill="#000" transform="translate(114.39 395.96) scale(1.000 1)">30</text>
<text font-family="Liberation Sans" font-size="15.60" fill="#000" transform="translate(164.98 397.61) scale(1.000 1)">33</text>
<text font-family="Liberation Sans" font-size="15.60" fill="#000" transform="translate(214.56 402.96) scale(1.000 1)">35</text>
<text font-family="Liberation Sans" font-size="15.60" fill="#000" transform="translate(346.28 403.16) scale(1.000 1)">38</text>
<text font-family="Liberation Sans" font-size="15.60" fill="#000" transform="translate(186.21 466.36) scale(1.000 1)">40</text>
<text font-family="Liberation Sans" font-size="15.60" fill="#000" transform="translate(149.95 488.41) scale(1.000 1)">43</text>
<text font-family="Liberation Sans" font-size="15.60" fill="#000" transform="translate(195.83 489.38) scale(1.000 1)">45</text>
<text font-family="Liberation Sans" font-size="15.60" fill="#000" transform="translate(221.05 501.11) scale(1.000 1)">48</text>
</g>
<text font-family="Liberation Sans" font-size="17.50" fill="#ff0000" transform="translate(268.22 487.27) scale(1.000 1)">D3</text>
<rect class="ax" x="82.5" y="382.8" width="310.7" height="124.2"/>
<path class="ax" d="M76.1 382.80 H82.5 M79.2 404.20 H82.5 M76.1 425.60 H82.5 M79.2 447.00 H82.5 M76.1 468.40 H82.5 M79.2 489.80 H82.5 M82.50 507.0 V511.0 M121.34 507.0 V509.4 M160.18 507.0 V511.0 M199.01 507.0 V509.4 M237.85 507.0 V511.0 M276.69 507.0 V509.4 M315.52 507.0 V511.0 M354.36 507.0 V509.4 M393.20 507.0 V511.0"/>
<text class="tk" transform="translate(72.3 387.6) scale(0.84 1)" text-anchor="end">0</text>
<text class="tk" transform="translate(72.3 430.4) scale(0.84 1)" text-anchor="end">−1</text>
<text class="tk" transform="translate(72.3 473.2) scale(0.84 1)" text-anchor="end">−2</text>
<text class="tk" transform="translate(82.50 524.7) scale(0.865 1)" text-anchor="middle">900</text>
<text class="tk" transform="translate(160.18 524.7) scale(0.865 1)" text-anchor="middle">950</text>
<text class="tk" transform="translate(237.85 524.7) scale(0.865 1)" text-anchor="middle">1000</text>
<text class="tk" transform="translate(315.52 524.7) scale(0.865 1)" text-anchor="middle">1050</text>
<text class="tk" transform="translate(393.20 524.7) scale(0.865 1)" text-anchor="middle">1100</text>
<text font-family="Liberation Sans" font-size="18.00" fill="#000" transform="translate(157.38 540.70) scale(1.046 1)">Temperature,</text>
<text font-family="Liberation Sans" font-style="italic" font-size="18.00" fill="#000" transform="translate(275.98 540.70) scale(1.121 1)">T</text>
<text font-family="Liberation Sans" font-size="18.00" fill="#000" transform="translate(289.45 540.70) scale(0.917 1)">[</text>
<text font-family="Liberation Sans" font-size="18.00" fill="#000" transform="translate(299.58 540.70) scale(0.910 1)">C</text>
<text font-family="Liberation Sans" font-size="18.00" fill="#000" transform="translate(313.25 540.70) scale(1.083 1)">]</text>
<circle cx="297.1" cy="533.1" r="1.8" fill="none" stroke="#000" stroke-width="0.95"/>
<text font-family="Liberation Sans" font-size="18.66" fill="#000" transform="translate(3.24 395.73) scale(0.992 1)">(c)</text>
<text font-family="DejaVu Serif" font-style="italic" font-size="16.15" fill="#000" transform="translate(210.55 380.48) scale(1.239 1)">ε</text>
<text font-family="Liberation Sans" font-size="13.64" fill="#000" transform="translate(222.44 379.19) scale(1.323 1)">=</text>
<text font-family="Liberation Sans" font-size="15.83" fill="#000" transform="translate(237.12 380.14) scale(1.073 1)">0.8</text>
<text font-family="Liberation Sans" font-size="18.00" fill="#000" transform="translate(48.80 532.80) rotate(-90) scale(0.988 1)">Strain rate,</text>
<text font-family="Liberation Sans" font-size="18.00" fill="#000" transform="translate(48.80 440.66) rotate(-90) scale(0.956 1)">log</text>
<text font-family="Liberation Serif" font-style="italic" font-size="15.00" fill="#000" transform="translate(49.10 415.52) rotate(-90) scale(1.056 1)">ε</text>
<circle cx="39.3" cy="412.0" r="0.85" fill="#000"/>
<text font-family="Liberation Sans" font-size="18.00" fill="#000" transform="translate(48.80 405.75) rotate(-90) scale(0.833 1)">[</text>
<text font-family="Liberation Sans" font-size="18.00" fill="#000" transform="translate(48.80 400.93) rotate(-90) scale(0.863 1)">s</text>
<text font-family="Liberation Sans" font-size="10.60" fill="#000" transform="translate(38.50 392.65) rotate(-90) scale(0.842 1)">−1</text>
<text font-family="Liberation Sans" font-size="18.00" fill="#000" transform="translate(48.80 380.92) rotate(-90) scale(0.917 1)">]</text>
</svg></body></html>
